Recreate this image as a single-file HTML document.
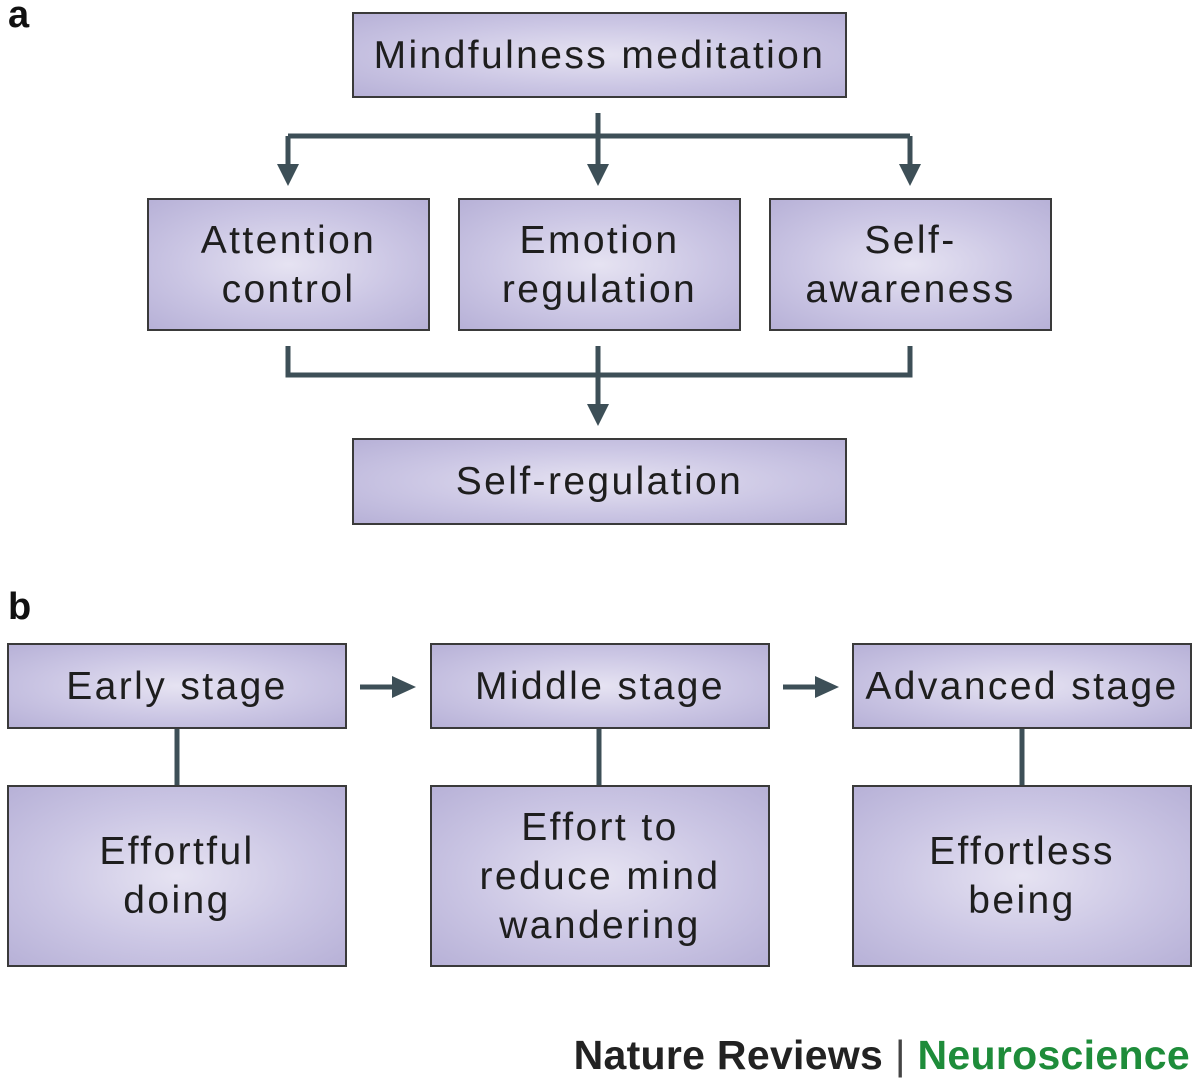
<!DOCTYPE html>
<html><head><style>
body{margin:0;width:1200px;height:1088px;background:#fff;position:relative;overflow:hidden;font-family:"Liberation Sans",sans-serif;}
.b{position:absolute;box-sizing:border-box;border:2px solid #3a3a3a;background:radial-gradient(ellipse at center,#e6e3f2 0%,#cbc6e4 55%,#b7b1d7 100%);display:flex;align-items:center;justify-content:center;text-align:center;font-size:39px;line-height:49px;color:#1e1e1e;letter-spacing:2.4px}
.l{position:absolute;font-weight:bold;font-size:38px;color:#111}
svg{position:absolute;left:0;top:0}
</style></head><body>
<div class="l" style="left:8px;top:-6px">a</div>
<div class="l" style="left:8px;top:586px">b</div>
<div class="b" style="left:352px;top:12px;width:495px;height:86px">Mindfulness meditation</div>
<div class="b" style="left:147px;top:198px;width:283px;height:133px">Attention<br>control</div>
<div class="b" style="left:458px;top:198px;width:283px;height:133px">Emotion<br>regulation</div>
<div class="b" style="left:769px;top:198px;width:283px;height:133px">Self-<br>awareness</div>
<div class="b" style="left:352px;top:438px;width:495px;height:87px">Self-regulation</div>
<div class="b" style="left:7px;top:643px;width:340px;height:86px">Early stage</div>
<div class="b" style="left:430px;top:643px;width:340px;height:86px">Middle stage</div>
<div class="b" style="left:852px;top:643px;width:340px;height:86px">Advanced stage</div>
<div class="b" style="left:7px;top:785px;width:340px;height:182px">Effortful<br>doing</div>
<div class="b" style="left:430px;top:785px;width:340px;height:182px">Effort to<br>reduce mind<br>wandering</div>
<div class="b" style="left:852px;top:785px;width:340px;height:182px">Effortless<br>being</div>
<svg width="1200" height="1088">
<g stroke="#3d4f57" stroke-width="5" fill="none">
<path d="M598 113V168M288 136H910M288 136V168M910 136V168"/>
<path d="M288 346V375H910V346M598 346V408"/>
<path d="M177 729V785M599 729V785M1022 729V785"/>
<path d="M360 687H395M783 687H818"/>
</g>
<g fill="#3d4f57">
<path d="M277 164H299L288 186Z"/><path d="M587 164H609L598 186Z"/><path d="M899 164H921L910 186Z"/>
<path d="M587 404H609L598 426Z"/>
<path d="M392 676V698L416 687Z"/><path d="M815 676V698L839 687Z"/>
</g>
</svg>
<div style="position:absolute;right:10px;top:1032px;font-size:41px;font-weight:bold;color:#222;white-space:nowrap;letter-spacing:0.3px">Nature Reviews <span style="font-weight:normal;color:#444">|</span> <span style="color:#1e8c3a">Neuroscience</span></div>
</body></html>
